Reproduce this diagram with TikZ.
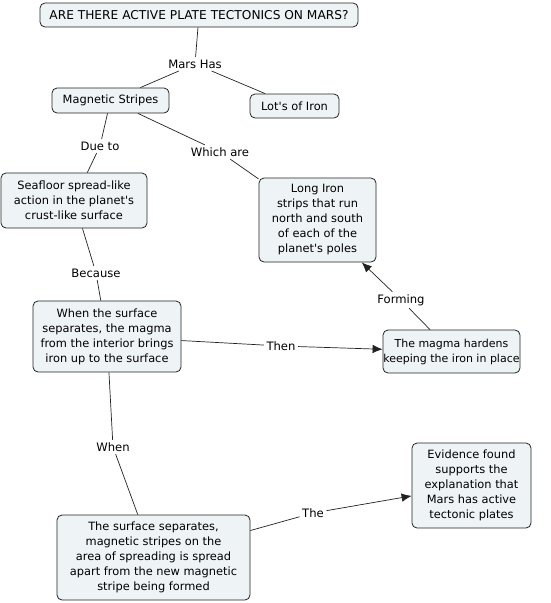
\documentclass[tikz,border=0pt]{standalone}
\usepackage{fontspec}
\setmainfont{DejaVu Sans}[Ligatures=TeXOff]
\usetikzlibrary{arrows.meta}
\definecolor{boxfill}{HTML}{EEF3F5}
\definecolor{boxline}{HTML}{222222}
\tikzset{
  concept/.style={draw=boxline, fill=boxfill, rounded corners=5pt, line width=0.8pt,
    align=center, inner sep=0pt, font=\fontsize{11.4}{15}\selectfont},
  linklabel/.style={fill=white, inner sep=2.5pt, font=\fontsize{11.6}{13}\selectfont},
  conn/.style={draw=boxline, line width=0.7pt},
  arr/.style={conn, -{Latex[length=10pt,width=8.5pt]}}
}
\begin{document}
\begin{tikzpicture}[x=1pt,y=-1pt]
\useasboundingbox (0,0) rectangle (551,603);
% concepts
\node[concept, minimum width=318, minimum height=24, font=\fontsize{12.2}{15}\selectfont] (title) at (199,15) {ARE THERE ACTIVE PLATE TECTONICS ON MARS?};
\node[concept, minimum width=117, minimum height=25] (mag) at (110.5,100.5) {Magnetic Stripes};
\node[concept, minimum width=89, minimum height=24] (iron) at (294.5,106) {Lot's of Iron};
\node[concept, minimum width=146, minimum height=55] (sea) at (74,200.5) {Seafloor spread-like\\action in the planet's\\crust-like surface};
\node[concept, minimum width=117, minimum height=84] (long) at (317.5,220) {Long Iron\\strips that run\\north and south\\of each of the\\planet's poles};
\node[concept, minimum width=148, minimum height=71] (when) at (107,336.5) {When the surface\\separates, the magma\\from the interior brings\\iron up to the surface};
\node[concept, minimum width=137, minimum height=43, font=\fontsize{11}{15}\selectfont] (hard) at (451.5,351.5) {The magma hardens\\keeping the iron in place};
\node[concept, minimum width=119, minimum height=85] (evid) at (471.5,485.5) {Evidence found\\supports the\\explanation that\\Mars has active\\tectonic plates};
\node[concept, minimum width=193, minimum height=85] (surf) at (153.5,557.5) {The surface separates,\\magnetic stripes on the\\area of spreading is spread\\apart from the new magnetic\\stripe being formed};
% link labels
\node[linklabel] (l1) at (195,64) {Mars Has};
\node[linklabel] (l2) at (100,146) {Due to};
\node[linklabel] (l3) at (220,152) {Which are};
\node[linklabel] (l4) at (96,273) {Because};
\node[linklabel] (l5) at (401,300) {Forming};
\node[linklabel] (l6) at (281,346) {Then};
\node[linklabel] (l7) at (113,447) {When};
\node[linklabel] (l8) at (313,513) {The};
% connectors
\draw[conn] (title) -- (l1);
\draw[conn] (l1) -- (mag);
\draw[conn] (l1) -- (iron);
\draw[conn] (mag) -- (l2);
\draw[conn] (l2) -- (sea);
\draw[conn] (mag) -- (l3);
\draw[conn] (l3) -- (long);
\draw[conn] (sea) -- (l4);
\draw[conn] (l4) -- (when);
\draw[conn] (when) -- (l6);
\draw[arr] (l6) -- (hard);
\draw[conn] (hard) -- (l5);
\draw[arr] (l5) -- (long);
\draw[conn] (when) -- (l7);
\draw[conn] (l7) -- (surf);
\draw[conn] (surf) -- (l8);
\draw[arr] (l8) -- (evid);
\end{tikzpicture}
\end{document}
